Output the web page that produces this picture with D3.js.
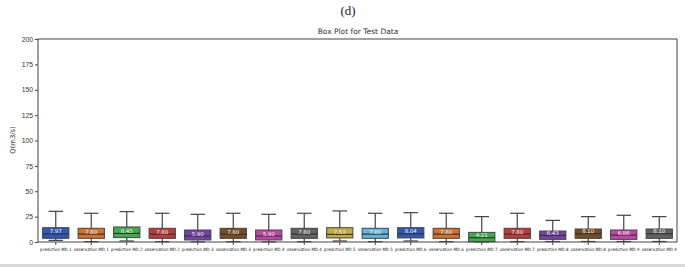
<!DOCTYPE html>
<html>
<head>
<meta charset="utf-8">
<script src="https://cdn.jsdelivr.net/npm/d3@7"></script>
<style>
  body { margin: 0; background: #fff; }
  svg { display: block; font-family: "DejaVu Sans", sans-serif; }
</style>
</head>
<body>
<svg width="685" height="267"></svg>
<script>
// box stats
var names = ["prediction MD.1", "observation MD.1", "prediction MD.2", "observation MD.2",
  "prediction MD.3", "observation MD.3", "prediction MD.4", "observation MD.4",
  "prediction MD.5", "observation MD.5", "prediction MD.6", "observation MD.6",
  "prediction MD.7", "observation MD.7", "prediction MD.8", "observation MD.8",
  "prediction MD.9", "observation MD.9"];
var whiskerLow  = [1.6, 0.3, 1.0, 0.3, 0.1, 0.3, 0.1, 0.3, 1.0, 0.3, 1.0, 0.3, 0.1, 0.3, 0.5, 0.5, 0.5, 0.5];
var q1          = [3.6, 3.6, 4.3, 3.6, 2.0, 3.6, 2.0, 3.6, 4.0, 3.6, 4.0, 3.6, 0.3, 3.6, 2.6, 3.6, 2.6, 3.6];
var medians     = [7.97, 7.80, 8.45, 7.80, 5.90, 7.80, 5.90, 7.80, 7.53, 7.80, 8.04, 7.80, 4.21, 7.80, 6.43, 8.10, 6.86, 8.10];
var q3          = [14.1, 13.5, 14.8, 13.5, 11.8, 13.5, 11.8, 13.5, 14.1, 13.5, 14.1, 13.5, 9.5, 13.5, 10.8, 12.8, 11.8, 12.8];
var whiskerHigh = [30.2, 28.3, 29.9, 28.3, 27.3, 28.3, 27.3, 28.3, 30.6, 28.3, 28.9, 28.3, 25.0, 28.3, 21.3, 25.0, 26.3, 25.0];
var yTicks = [0, 25, 50, 75, 100, 125, 150, 175, 200];
var palette = ["#2f56b8", "#d4712c", "#3fae4a", "#c0393b", "#7a3fae",
               "#7a4a22", "#c643a9", "#626262", "#c2ad3c", "#62b6de"];

var svg = d3.select("svg");
var mLeft = 38, mRight = 677, mTop = 39, mBottom = 242;

var x = d3.scaleBand().domain(names).range([mLeft, mRight]).padding(0);
var y = d3.scaleLinear().domain([0, 200]).range([mBottom, mTop]);

svg.append("text").attr("x", 348).attr("y", 15).attr("text-anchor", "middle")
  .style("font-family", "Liberation Serif, serif").style("font-size", "13px").attr("fill", "#222")
  .text("(d)");

svg.append("text").attr("x", 358).attr("y", 34).attr("text-anchor", "middle")
  .style("font-size", "7.5px").attr("fill", "#333").text("Box Plot for Test Data");

// y axis
var ya = svg.append("g").attr("transform", "translate(" + mLeft + ",0)")
  .call(d3.axisLeft(y).tickValues(yTicks).tickSize(3).tickPadding(2));
ya.select(".domain").remove();
ya.selectAll("line").attr("stroke", "#444");
ya.selectAll("text").style("font-size", "6.8px").attr("fill", "#333");

svg.append("text").attr("transform", "translate(15,140) rotate(-90)")
  .attr("text-anchor", "middle").style("font-size", "6.8px").attr("fill", "#333")
  .text("Q(m3/s)");

// x axis
var xa = svg.append("g").attr("transform", "translate(0," + mBottom + ")")
  .call(d3.axisBottom(x).tickSize(3).tickPadding(3));
xa.select(".domain").remove();
xa.selectAll("line").attr("stroke", "#444");
xa.selectAll("text").style("font-family", "DejaVu Sans Condensed, DejaVu Sans, sans-serif")
  .style("font-size", "4.4px").attr("fill", "#222");

var bw = x.bandwidth() * 0.74;
var cap = bw * 0.55;

var boxes = svg.append("g").selectAll("g").data(names).enter().append("g")
  .attr("transform", function(d) { return "translate(" + (x(d) + x.bandwidth() / 2) + ",0)"; });

boxes.append("line").attr("x1", 0).attr("x2", 0)
  .attr("y1", function(d, i) { return y(whiskerHigh[i]); })
  .attr("y2", function(d, i) { return y(q3[i]); })
  .attr("stroke", "#444").attr("stroke-width", 1.2);
boxes.append("line").attr("x1", 0).attr("x2", 0)
  .attr("y1", function(d, i) { return y(q1[i]); })
  .attr("y2", function(d, i) { return y(whiskerLow[i]); })
  .attr("stroke", "#444").attr("stroke-width", 1.2);
boxes.append("line").attr("x1", -cap / 2).attr("x2", cap / 2)
  .attr("y1", function(d, i) { return y(whiskerHigh[i]); })
  .attr("y2", function(d, i) { return y(whiskerHigh[i]); })
  .attr("stroke", "#444").attr("stroke-width", 1.2);
boxes.append("line").attr("x1", -cap / 2).attr("x2", cap / 2)
  .attr("y1", function(d, i) { return y(whiskerLow[i]); })
  .attr("y2", function(d, i) { return y(whiskerLow[i]); })
  .attr("stroke", "#444").attr("stroke-width", 1.2);

boxes.append("rect").attr("x", -bw / 2).attr("width", bw)
  .attr("y", function(d, i) { return y(q3[i]); })
  .attr("height", function(d, i) { return y(q1[i]) - y(q3[i]); })
  .attr("fill", function(d, i) { return palette[i % palette.length]; })
  .attr("stroke", "#444").attr("stroke-width", 1);

boxes.append("line").attr("x1", -bw / 2).attr("x2", bw / 2)
  .attr("y1", function(d, i) { return y(medians[i]); })
  .attr("y2", function(d, i) { return y(medians[i]); })
  .attr("stroke", "#333").attr("stroke-width", 1.2);

boxes.append("text").attr("text-anchor", "middle")
  .attr("y", function(d, i) { return y(medians[i]) - 0.5; })
  .style("font-size", "5.5px").attr("fill", "#f0f0f0")
  .text(function(d, i) { return medians[i].toFixed(2); });

// frame
svg.append("rect").attr("x", mLeft).attr("y", mTop)
  .attr("width", mRight - mLeft).attr("height", mBottom - mTop)
  .attr("fill", "none").attr("stroke", "#444").attr("stroke-width", 1);

svg.append("rect").attr("x", 0).attr("y", 264).attr("width", 685).attr("height", 3)
  .attr("fill", "#d8d8d8");
</script>
</body>
</html>
